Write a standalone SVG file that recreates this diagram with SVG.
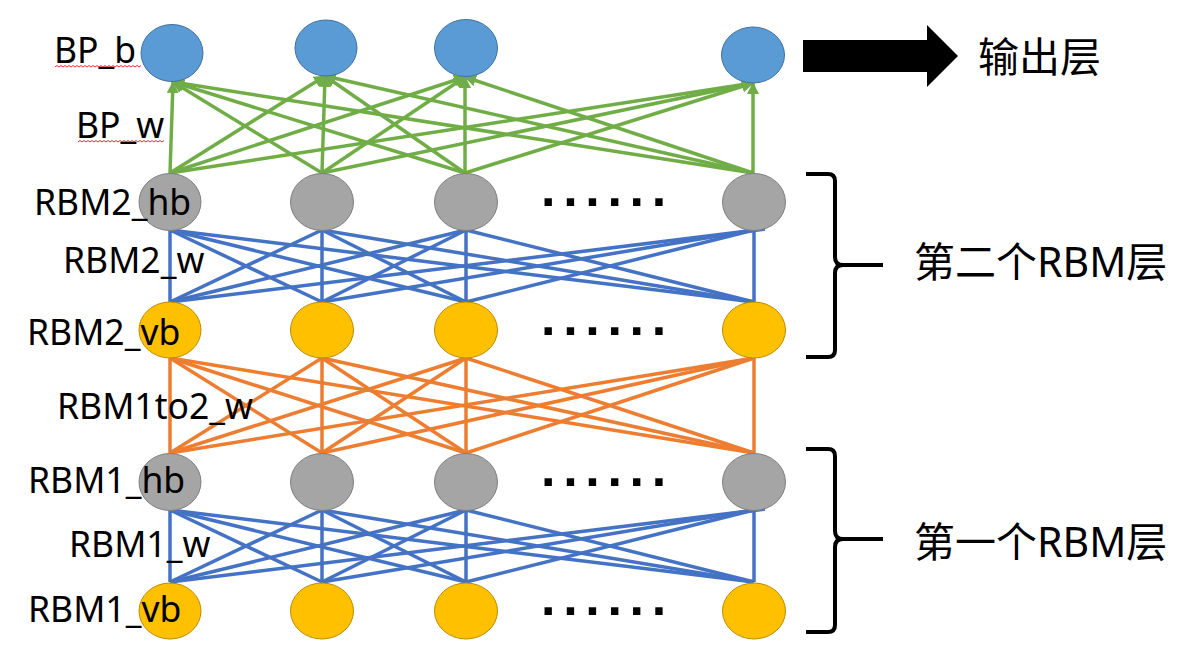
<svg xmlns="http://www.w3.org/2000/svg" width="1185" height="654" viewBox="0 0 1185 654">
<style>
.g{stroke:#70AD47;stroke-width:3.5;fill:none;marker-end:url(#ah)}
.b{stroke:#4472C4;stroke-width:3.5;fill:none}
.o{stroke:#ED7D31;stroke-width:3.5;fill:none}
.nb{fill:#5B9BD5;stroke:#41719C;stroke-width:1}
.ng{fill:#A5A5A5;stroke:#7F7F7F;stroke-width:1}
.ny{fill:#FFC000;stroke:#BC8C00;stroke-width:1}
.lbl{font-family:"Noto Sans","Open Sans",sans-serif;font-size:35.5px;fill:#000}
.cn{font-family:"Noto Sans","Noto Sans CJK SC",sans-serif;font-size:41px;fill:#000}
.dots{font-family:"Liberation Sans",Arial,sans-serif;font-weight:bold;font-size:52px;letter-spacing:7.7px;fill:#000}
.sq{stroke:#E03030;stroke-width:1;fill:none}
.br{stroke:#000;stroke-width:4;fill:none}
</style>
<defs>
<marker id="ah" markerUnits="userSpaceOnUse" markerWidth="12" markerHeight="12" viewBox="0 0 12 12" refX="11" refY="6" orient="auto">
<path d="M0,0 L12,6 L0,12 z" fill="#70AD47"/>
</marker>
</defs>
<rect width="1185" height="654" fill="#fff"/>
<g id="connectors">
<line class="g" x1="170" y1="173" x2="173" y2="82"/>
<line class="g" x1="170" y1="173" x2="325" y2="76"/>
<line class="g" x1="170" y1="173" x2="465" y2="77"/>
<line class="g" x1="170" y1="173" x2="753" y2="83"/>
<line class="g" x1="322" y1="173" x2="173" y2="82"/>
<line class="g" x1="322" y1="173" x2="325" y2="76"/>
<line class="g" x1="322" y1="173" x2="465" y2="77"/>
<line class="g" x1="322" y1="173" x2="753" y2="83"/>
<line class="g" x1="465" y1="173" x2="173" y2="82"/>
<line class="g" x1="465" y1="173" x2="325" y2="76"/>
<line class="g" x1="465" y1="173" x2="465" y2="77"/>
<line class="g" x1="465" y1="173" x2="753" y2="83"/>
<line class="g" x1="753" y1="173" x2="173" y2="82"/>
<line class="g" x1="753" y1="173" x2="325" y2="76"/>
<line class="g" x1="753" y1="173" x2="465" y2="77"/>
<line class="g" x1="753" y1="173" x2="753" y2="83"/>
<line class="b" x1="170" y1="230" x2="170" y2="302"/>
<line class="b" x1="170" y1="230" x2="322" y2="302"/>
<line class="b" x1="170" y1="230" x2="466" y2="302"/>
<line class="b" x1="170" y1="230" x2="754" y2="302"/>
<line class="b" x1="322" y1="230" x2="170" y2="302"/>
<line class="b" x1="322" y1="230" x2="322" y2="302"/>
<line class="b" x1="322" y1="230" x2="466" y2="302"/>
<line class="b" x1="322" y1="230" x2="754" y2="302"/>
<line class="b" x1="466" y1="230" x2="170" y2="302"/>
<line class="b" x1="466" y1="230" x2="322" y2="302"/>
<line class="b" x1="466" y1="230" x2="466" y2="302"/>
<line class="b" x1="466" y1="230" x2="754" y2="302"/>
<line class="b" x1="765" y1="229" x2="170" y2="302"/>
<line class="b" x1="754" y1="230" x2="322" y2="302"/>
<line class="b" x1="754" y1="230" x2="466" y2="302"/>
<line class="b" x1="754" y1="230" x2="754" y2="302"/>
<line class="o" x1="170" y1="358" x2="170" y2="453"/>
<line class="o" x1="170" y1="358" x2="322" y2="453"/>
<line class="o" x1="170" y1="358" x2="466" y2="453"/>
<line class="o" x1="170" y1="358" x2="754" y2="453"/>
<line class="o" x1="322" y1="358" x2="170" y2="453"/>
<line class="o" x1="322" y1="358" x2="322" y2="453"/>
<line class="o" x1="322" y1="358" x2="466" y2="453"/>
<line class="o" x1="322" y1="358" x2="754" y2="453"/>
<line class="o" x1="466" y1="358" x2="170" y2="453"/>
<line class="o" x1="466" y1="358" x2="322" y2="453"/>
<line class="o" x1="466" y1="358" x2="466" y2="453"/>
<line class="o" x1="466" y1="358" x2="754" y2="453"/>
<line class="o" x1="754" y1="358" x2="170" y2="453"/>
<line class="o" x1="754" y1="358" x2="322" y2="453"/>
<line class="o" x1="754" y1="358" x2="466" y2="453"/>
<line class="o" x1="754" y1="358" x2="754" y2="453"/>
<line class="b" x1="170" y1="510" x2="170" y2="582"/>
<line class="b" x1="170" y1="510" x2="322" y2="582"/>
<line class="b" x1="170" y1="510" x2="466" y2="582"/>
<line class="b" x1="170" y1="510" x2="754" y2="582"/>
<line class="b" x1="322" y1="510" x2="170" y2="582"/>
<line class="b" x1="322" y1="510" x2="322" y2="582"/>
<line class="b" x1="322" y1="510" x2="466" y2="582"/>
<line class="b" x1="322" y1="510" x2="754" y2="582"/>
<line class="b" x1="466" y1="510" x2="170" y2="582"/>
<line class="b" x1="466" y1="510" x2="322" y2="582"/>
<line class="b" x1="466" y1="510" x2="466" y2="582"/>
<line class="b" x1="466" y1="510" x2="754" y2="582"/>
<line class="b" x1="765" y1="509" x2="170" y2="582"/>
<line class="b" x1="754" y1="510" x2="322" y2="582"/>
<line class="b" x1="754" y1="510" x2="466" y2="582"/>
<line class="b" x1="754" y1="510" x2="754" y2="582"/>
</g>
<g id="out1"><ellipse class="nb" cx="172" cy="53" rx="31" ry="28.5"/></g>
<g id="out2"><ellipse class="nb" cx="326" cy="48" rx="31" ry="28"/></g>
<g id="out3"><ellipse class="nb" cx="466" cy="48" rx="31.5" ry="28.5"/></g>
<g id="out4"><ellipse class="nb" cx="753" cy="55" rx="31.5" ry="28"/></g>
<g id="h2_1"><ellipse class="ng" cx="170" cy="202" rx="31" ry="28.5"/></g>
<g id="h2_2"><ellipse class="ng" cx="322" cy="202" rx="31.5" ry="28.5"/></g>
<g id="h2_3"><ellipse class="ng" cx="466" cy="202" rx="31.5" ry="28.5"/></g>
<g id="h2_4"><ellipse class="ng" cx="754" cy="202" rx="31.5" ry="28.5"/></g>
<g id="v2_1"><ellipse class="ny" cx="170" cy="330" rx="31" ry="28"/></g>
<g id="v2_2"><ellipse class="ny" cx="322" cy="330" rx="31.5" ry="28"/></g>
<g id="v2_3"><ellipse class="ny" cx="466" cy="330" rx="31.5" ry="28"/></g>
<g id="v2_4"><ellipse class="ny" cx="754" cy="330" rx="31.5" ry="28"/></g>
<g id="h1_1"><ellipse class="ng" cx="170" cy="482" rx="31" ry="28.5"/></g>
<g id="h1_2"><ellipse class="ng" cx="322" cy="482" rx="31.5" ry="28.5"/></g>
<g id="h1_3"><ellipse class="ng" cx="466" cy="482" rx="31.5" ry="28.5"/></g>
<g id="h1_4"><ellipse class="ng" cx="754" cy="482" rx="31.5" ry="28.5"/></g>
<g id="v1_1"><ellipse class="ny" cx="170" cy="611" rx="31" ry="28"/></g>
<g id="v1_2"><ellipse class="ny" cx="322" cy="611" rx="31.5" ry="28"/></g>
<g id="v1_3"><ellipse class="ny" cx="466" cy="611" rx="31.5" ry="28"/></g>
<g id="v1_4"><ellipse class="ny" cx="754" cy="611" rx="31.5" ry="28"/></g>
<g id="ellipsis">
<text class="dots" x="541" y="206">......</text>
<text class="dots" x="541" y="335">......</text>
<text class="dots" x="541" y="486">......</text>
<text class="dots" x="541" y="615">......</text>
</g>
<g id="labels">
<text class="lbl" x="54" y="63">BP_b</text>
<path class="sq" d="M55,67 l2,-1.5 l2,1.5 l2,-1.5 l2,1.5 l2,-1.5 l2,1.5 l2,-1.5 l2,1.5 l2,-1.5 l2,1.5 l2,-1.5 l2,1.5 l2,-1.5 l2,1.5 l2,-1.5 l2,1.5 l2,-1.5 l2,1.5 l2,-1.5 l2,1.5 l2,-1.5 l2,1.5 l2,-1.5 l2,1.5 l2,-1.5 l2,1.5 l2,-1.5 l2,1.5 l2,-1.5 l2,1.5 l2,-1.5 l2,1.5 l2,-1.5 l2,1.5 l2,-1.5 l2,1.5 l2,-1.5 l2,1.5 l2,-1.5 l2,1.5 l2,-1.5 l2,1.5 l2,-1.5"/>
<text class="lbl" x="76" y="138">BP_w</text>
<path class="sq" d="M78,142 l2,-1.5 l2,1.5 l2,-1.5 l2,1.5 l2,-1.5 l2,1.5 l2,-1.5 l2,1.5 l2,-1.5 l2,1.5 l2,-1.5 l2,1.5 l2,-1.5 l2,1.5 l2,-1.5 l2,1.5 l2,-1.5 l2,1.5 l2,-1.5 l2,1.5 l2,-1.5 l2,1.5 l2,-1.5 l2,1.5 l2,-1.5 l2,1.5 l2,-1.5 l2,1.5 l2,-1.5 l2,1.5 l2,-1.5 l2,1.5 l2,-1.5 l2,1.5 l2,-1.5 l2,1.5 l2,-1.5 l2,1.5 l2,-1.5 l2,1.5 l2,-1.5 l2,1.5 l2,-1.5"/>
<text class="lbl" x="34" y="215">RBM2_hb</text>
<text class="lbl" x="63" y="273">RBM2_w</text>
<text class="lbl" x="27" y="345">RBM2_vb</text>
<text class="lbl" x="57" y="419">RBM1to2_w</text>
<text class="lbl" x="28" y="493">RBM1_hb</text>
<text class="lbl" x="69" y="557">RBM1_w</text>
<text class="lbl" x="28" y="622">RBM1_vb</text>
</g>
<g id="output-arrow">
<polygon points="803,40 927,40 927,25 958,56 927,87 927,72 803,72" fill="#000"/>
<text class="cn" x="978" y="72">输出层</text>
</g>
<g id="brace2">
<path class="br" d="M806,174 H828 Q835,174 835,181 V257 Q835,265 843,265 H883 M843,265 Q835,265 835,273 V350 Q835,357 828,357 H806"/>
<text class="cn" x="914" y="277">第二个RBM层</text>
</g>
<g id="brace1">
<path class="br" d="M806,449 H828 Q835,449 835,456 V531 Q835,539 843,539 H883 M843,539 Q835,539 835,547 V625 Q835,632 828,632 H806"/>
<text class="cn" x="914" y="557">第一个RBM层</text>
</g>
</svg>
